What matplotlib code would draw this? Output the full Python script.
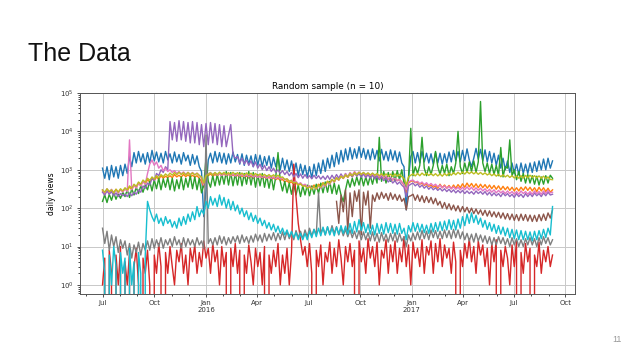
import numpy as np
import matplotlib
matplotlib.use("Agg")
import matplotlib.pyplot as plt
import matplotlib.dates as mdates

nan = np.nan

# sampled every 4 days, Jul 2015 - Sep 2017
dates = np.arange('2015-07-01', '2017-09-12', 4, dtype='datetime64[D]')

blue = [1100, 600, 1200, 550, 1300, 650, 1200, 600, 1300, 700,
        1400, 800, 2200, 1200, 2800, 1500, 3000, 1600, 2600, 1400,
        2800, 1500, 3200, 1700, 2900, 1600, 2700, 1500, 3000, 1800,
        2600, 1500, 2900, 1600, 2500, 1400, 2800, 1700, 2400, 1300,
        2500, 1400, 2300, 1200, 900, 60, 300, 1800, 2700, 1500,
        3000, 1600, 2800, 1500, 2700, 1400, 2600, 1500, 2900, 1600,
        2500, 1400, 2600, 1300, 2400, 1400, 2300, 1200, 2500, 1300,
        2400, 1200, 2200, 1300, 2300, 1100, 2100, 1200, 2200, 1000,
        2000, 1000, 1800, 900, 1700, 800, 1500, 700, 1400, 750,
        1300, 650, 1200, 600, 1400, 700, 1500, 800, 1800, 900,
        2000, 1100, 2400, 1200, 2800, 1400, 3200, 1600, 3500, 1800,
        3800, 1900, 3500, 2000, 4000, 2100, 3600, 1900, 3300, 1800,
        3500, 1900, 3200, 1700, 3400, 1800, 3000, 1700, 3300, 1800,
        3100, 1600, 2900, 1500, 1200, 90, 600, 2200, 3000, 1500,
        2800, 1500, 3000, 1600, 2700, 1500, 2600, 1400, 2800, 1500,
        2700, 1400, 2600, 1500, 2900, 1600, 3200, 1700, 3000, 1600,
        3200, 1700, 3500, 1800, 1200, 2000, 3600, 1900, 3400, 1700,
        3300, 1600, 3000, 1500, 2700, 1300, 2400, 1100, 2000, 1000,
        1700, 850, 1500, 800, 1400, 750, 1500, 800, 1400, 800,
        1500, 850, 1600, 900, 1700, 1000, 1900, 1000, 2000, 1100,
        1700]

orange = [280, 230, 300, 240, 290, 250, 310, 260, 300, 270,
          320, 280, 360, 300, 400, 340, 450, 380, 500, 420,
          550, 480, 600, 520, 650, 560, 700, 600, 680, 620,
          700, 620, 750, 650, 720, 640, 760, 660, 740, 650,
          720, 640, 700, 600, 500, 350, 650, 700, 780, 680,
          760, 680, 800, 700, 780, 690, 760, 680, 740, 660,
          720, 650, 700, 620, 690, 610, 680, 600, 700, 620,
          680, 600, 650, 580, 640, 560, 620, 550, 600, 530,
          560, 480, 520, 450, 480, 420, 450, 400, 430, 380,
          400, 360, 380, 340, 400, 350, 420, 380, 460, 400,
          500, 440, 560, 480, 620, 540, 680, 590, 720, 630,
          760, 660, 800, 700, 820, 720, 780, 690, 760, 670,
          740, 650, 700, 620, 680, 600, 650, 570, 620, 540,
          600, 520, 560, 480, 400, 250, 450, 500, 520, 460,
          480, 420, 450, 390, 430, 370, 400, 350, 380, 330,
          420, 340, 400, 330, 390, 320, 400, 330, 410, 340,
          430, 350, 450, 360, 440, 350, 430, 340, 420, 340,
          410, 330, 400, 320, 390, 310, 380, 300, 370, 300,
          360, 290, 350, 280, 340, 280, 350, 290, 360, 290,
          350, 280, 340, 270, 350, 280, 340, 270, 330, 260,
          300]

green = [150, 220, 140, 230, 160, 250, 170, 240, 180, 260,
         200, 300, 190, 320, 220, 350, 240, 380, 260, 400,
         300, 500, 280, 550, 320, 600, 300, 580, 350, 620,
         300, 600, 280, 550, 320, 650, 300, 600, 350, 700,
         320, 650, 300, 600, 250, 400, 2000, 500, 350, 700,
         380, 750, 400, 800, 420, 900, 400, 850, 380, 800,
         400, 850, 380, 800, 420, 900, 400, 850, 350, 750,
         380, 800, 350, 700, 330, 680, 300, 650, 2800, 500,
         280, 500, 250, 450, 230, 420, 220, 400, 200, 380,
         220, 400, 210, 380, 230, 420, 240, 450, 250, 480,
         260, 500, 240, 450, 230, 400, 220, 150, 300, 550,
         350, 600, 380, 650, 400, 700, 380, 650, 400, 700,
         420, 750, 450, 7000, 500, 900, 450, 850, 500, 900,
         500, 950, 550, 1000, 450, 300, 600, 12000, 700, 1200,
         800, 1300, 7000, 1100, 700, 1200, 750, 1300, 3000, 1200,
         750, 1300, 800, 1400, 700, 1200, 800, 1500, 10000, 1200,
         800, 1500, 850, 1600, 900, 1700, 850, 1600, 60000, 1500,
         900, 1500, 800, 1400, 750, 1300, 700, 3800, 650, 1200,
         1100, 6000, 700, 1000, 550, 900, 500, 800, 450, 750,
         450, 700, 420, 680, 400, 650, 420, 700, 450, 720,
         600]

red = [1, 5, 0, 8, 2, 0, 6, 1, 10, 0,
       4, 1, 7, 0, 3, 9, 1, 0, 5, 2,
       8, 1, 0, 6, 2, 12, 3, 0, 7, 2,
       10, 3, 1, 8, 4, 12, 2, 6, 1, 9,
       4, 11, 2, 7, 3, 14, 5, 9, 2, 12,
       4, 8, 1, 10, 3, 7, 0, 9, 3, 12,
       2, 8, 0, 6, 2, 11, 4, 1, 9, 3,
       7, 1, 10, 0, 6, 2, 8, 3, 12, 1,
       6, 2, 9, 1, 7, 1400, 200, 40, 15, 6,
       10, 3, 12, 2, 0, 8, 3, 11, 1, 7,
       4, 13, 2, 9, 3, 15, 5, 1, 10, 4,
       12, 3, 8, 0, 14, 4, 9, 2, 16, 5,
       10, 3, 13, 1, 8, 5, 15, 2, 11, 4,
       14, 2, 9, 4, 18, 3, 11, 1, 13, 5,
       9, 3, 15, 2, 10, 6, 14, 2, 12, 4,
       16, 3, 11, 5, 9, 2, 13, 4, 0, 8,
       3, 12, 5, 16, 4, 10, 2, 14, 6, 11,
       3, 9, 1, 12, 4, 15, 0, 8, 3, 10,
       5, 1, 11, 3, 14, 0, 7, 2, 12, 4,
       9, 0, 6, 3, 13, 2, 8, 4, 10, 3,
       6]

purple = [260, 220, 280, 230, 270, 210, 250, 200, 240, 210,
          230, 200, 250, 210, 260, 230, 300, 260, 380, 330,
          450, 400, 600, 520, 800, 700, 1000, 850, 1200, 1000,
          18000, 6000, 17000, 5500, 19000, 6000, 18000, 5500, 17000, 5000,
          18000, 5000, 17000, 4500, 15000, 4000, 16000, 4500, 17000, 5000,
          16000, 4500, 15000, 4000, 14000, 4000, 8000, 15000, 2500, 2000,
          2200, 1500, 2000, 1400, 1800, 1300, 1700, 1200, 1600, 1100,
          1400, 1000, 1300, 950, 1200, 900, 1100, 850, 1000, 800,
          950, 750, 900, 700, 850, 650, 800, 620, 780, 600,
          750, 600, 700, 580, 720, 590, 700, 570, 680, 560,
          700, 560, 720, 580, 750, 600, 780, 620, 800, 640,
          820, 650, 850, 680, 800, 640, 780, 620, 750, 600,
          720, 580, 680, 550, 650, 520, 600, 480, 560, 450,
          520, 420, 480, 400, 350, 200, 380, 420, 450, 380,
          430, 350, 400, 330, 380, 310, 360, 300, 340, 290,
          330, 280, 320, 270, 310, 260, 300, 250, 290, 250,
          290, 240, 280, 240, 270, 230, 280, 240, 270, 230,
          270, 220, 260, 210, 250, 210, 240, 200, 250, 210,
          240, 200, 230, 190, 240, 200, 230, 190, 240, 200,
          240, 200, 250, 210, 240, 200, 250, 210, 260, 220,
          230]

brown = [nan] * 104 + [
    150, 40, 220, 80, 300, 25,
    250, 60, 280, 150, 300, 20, 260, 120, 280, 30,
    220, 150, 250, 170, 260, 180, 240, 160, 250, 170,
    230, 160, 220, 150, 180, 90, 200, 210, 230, 160,
    220, 150, 210, 140, 200, 140, 190, 130, 180, 120,
    150, 100, 140, 95, 130, 90, 120, 85, 115, 80,
    110, 80, 105, 75, 100, 72, 95, 70, 90, 65,
    88, 62, 85, 60, 80, 58, 78, 55, 75, 52,
    72, 50, 70, 48, 68, 47, 70, 48, 68, 46,
    66, 45, 65, 45, 68, 47, 70, 48, 75, 55,
    90]

pink = [300, 250, 320, 260, 310, 250, 300, 240, 310, 260,
        320, 270, 6000, 300, 400, 330, 450, 380, 500, 420,
        800, 1400, 1800, 1300, 1600, 1100, 1300, 950, 1100, 900,
        1000, 850, 950, 800, 900, 780, 880, 760, 860, 750,
        850, 740, 820, 720, 600, 400, 750, 780, 850, 740,
        830, 720, 800, 700, 820, 710, 800, 690, 780, 680,
        780, 680, 760, 660, 750, 650, 740, 640, 720, 630,
        700, 620, 690, 600, 680, 590, 660, 580, 650, 570,
        620, 540, 580, 500, 540, 460, 500, 420, 460, 390,
        420, 360, 380, 330, 360, 310, 380, 330, 420, 360,
        480, 410, 550, 470, 620, 530, 700, 600, 780, 660,
        850, 720, 900, 760, 880, 750, 850, 720, 820, 700,
        800, 680, 760, 650, 720, 620, 680, 580, 640, 550,
        600, 520, 560, 480, 420, 300, 480, 520, 540, 470,
        500, 430, 480, 410, 460, 390, 440, 380, 420, 360,
        400, 340, 380, 330, 370, 320, 360, 310, 350, 300,
        350, 300, 360, 300, 350, 290, 340, 290, 330, 280,
        320, 270, 310, 260, 300, 250, 290, 250, 280, 240,
        280, 240, 270, 230, 270, 230, 280, 240, 270, 230,
        270, 230, 280, 240, 270, 230, 280, 240, 290, 250,
        260]

gray = [30, 12, 25, 8, 20, 10, 18, 7, 15, 9,
        14, 6, 12, 5, 11, 7, 13, 6, 12, 8,
        14, 8, 16, 9, 15, 10, 17, 9, 15, 11,
        16, 10, 18, 11, 15, 9, 17, 10, 16, 11,
        15, 10, 17, 11, 14, 9, 8000, 12, 16, 11,
        17, 11, 19, 12, 18, 11, 17, 12, 18, 13,
        19, 12, 20, 13, 18, 12, 19, 13, 21, 14,
        20, 13, 22, 14, 21, 15, 23, 14, 22, 15,
        24, 15, 25, 16, 23, 15, 26, 17, 25, 16,
        27, 18, 30, 19, 28, 20, 250, 22, 30, 20,
        32, 21, 35, 22, 33, 20, 30, 19, 28, 18,
        27, 17, 25, 16, 26, 15, 24, 15, 23, 14,
        24, 14, 22, 13, 23, 14, 21, 13, 22, 14,
        23, 13, 22, 14, 18, 10, 20, 14, 22, 15,
        24, 15, 26, 16, 25, 15, 27, 17, 26, 16,
        25, 16, 27, 17, 26, 16, 28, 17, 27, 16,
        24, 15, 22, 14, 21, 13, 22, 14, 20, 13,
        19, 12, 18, 11, 17, 11, 18, 12, 17, 11,
        16, 10, 17, 11, 16, 10, 15, 10, 16, 11,
        17, 11, 16, 10, 17, 11, 18, 12, 17, 11,
        15]

olive = [300, 260, 320, 270, 300, 250, 310, 260, 320, 280,
         340, 300, 380, 330, 420, 370, 480, 420, 540, 470,
         600, 530, 650, 570, 700, 620, 750, 660, 780, 690,
         820, 720, 850, 740, 860, 750, 840, 730, 850, 740,
         830, 730, 810, 710, 650, 450, 700, 760, 830, 740,
         850, 750, 870, 760, 860, 750, 840, 740, 860, 750,
         840, 740, 820, 720, 830, 730, 810, 710, 800, 700,
         780, 690, 760, 670, 750, 660, 740, 650, 720, 630,
         650, 560, 580, 500, 520, 450, 470, 400, 430, 370,
         380, 330, 360, 310, 370, 320, 400, 350, 450, 390,
         500, 440, 560, 490, 620, 540, 680, 600, 740, 650,
         800, 700, 840, 740, 860, 760, 850, 750, 830, 730,
         820, 720, 800, 700, 790, 690, 780, 680, 770, 670,
         780, 680, 760, 660, 600, 400, 650, 720, 780, 690,
         800, 700, 820, 720, 810, 710, 800, 700, 790, 690,
         780, 680, 800, 700, 820, 720, 840, 740, 860, 760,
         880, 770, 900, 790, 880, 780, 870, 760, 850, 750,
         830, 730, 800, 700, 780, 680, 760, 660, 740, 650,
         720, 630, 700, 610, 690, 600, 700, 610, 710, 620,
         720, 630, 700, 610, 690, 600, 680, 590, 650, 560,
         550]

cyan = [8, 2, 0, 6, 1, 10, 3, 0, 7, 2,
        5, 0, 9, 1, 4, 0, 7, 2, 0, 6,
        150, 90, 60, 45, 70, 40, 55, 35, 60, 40,
        50, 32, 45, 30, 55, 35, 60, 38, 70, 45,
        80, 50, 110, 60, 90, 70, 150, 100, 200, 120,
        180, 110, 220, 120, 190, 100, 170, 90, 150, 85,
        120, 70, 100, 60, 85, 50, 75, 45, 65, 40,
        55, 35, 48, 30, 42, 27, 38, 24, 34, 22,
        30, 20, 27, 18, 25, 17, 23, 15, 22, 15,
        22, 15, 25, 17, 28, 18, 30, 19, 32, 20,
        33, 20, 30, 19, 32, 21, 35, 22, 34, 21,
        40, 22, 45, 24, 50, 26, 42, 23, 38, 21,
        36, 20, 40, 22, 38, 21, 42, 23, 40, 22,
        38, 21, 40, 22, 30, 15, 35, 24, 42, 25,
        40, 24, 38, 23, 36, 22, 40, 24, 42, 25,
        44, 26, 46, 27, 50, 28, 48, 27, 52, 30,
        60, 35, 70, 40, 75, 42, 65, 38, 55, 32,
        48, 28, 42, 25, 38, 22, 35, 21, 32, 19,
        30, 17, 28, 16, 27, 15, 26, 15, 25, 15,
        24, 14, 25, 15, 26, 16, 28, 17, 30, 20,
        110]

series = [blue, orange, green, red, purple, brown, pink, gray, olive, cyan]

plt.rcParams['font.family'] = ['DejaVu Sans']

fig = plt.figure(figsize=(6.38, 3.59), dpi=100)
fig.text(0.044, 1 - 61 / 359, "The Data", fontsize=18, family='Liberation Sans',
         va='baseline', color='#111111')
fig.text(0.975, 1 - 342 / 359, "11", fontsize=6.5, family='Liberation Sans',
         ha='right', va='baseline', color='#9a9a9a')

ax = fig.add_axes([0.1254, 0.1811, 0.7759, 0.5599])
for s in series:
    ax.plot(dates, s, lw=1.0)

ax.set_yscale('log')
ax.set_ylim(0.58, 1e5)
ax.set_title("Random sample (n = 10)", fontsize=6.4, pad=3)
ax.set_ylabel("daily views", fontsize=5.5, labelpad=3)


def month_fmt(x, pos=None):
    d = mdates.num2date(x)
    if d.month == 1:
        return d.strftime('%b\n%Y')
    return d.strftime('%b')


ax.xaxis.set_major_locator(mdates.MonthLocator(bymonth=[1, 4, 7, 10]))
ax.xaxis.set_minor_locator(mdates.MonthLocator())
ax.xaxis.set_major_formatter(plt.FuncFormatter(month_fmt))
ax.xaxis.set_minor_formatter(plt.NullFormatter())

ax.tick_params(labelsize=5, length=2.5, width=0.6, pad=2, colors='#333333')
ax.tick_params(which='minor', length=1.5, width=0.5)
for lab in ax.get_xticklabels():
    lab.set_horizontalalignment('center')
ax.grid(True, which='major', color='#c8c8c8', lw=0.7)
for sp in ax.spines.values():
    sp.set_color('#555555')
    sp.set_linewidth(0.7)

fig.savefig("out.png", dpi=100)
